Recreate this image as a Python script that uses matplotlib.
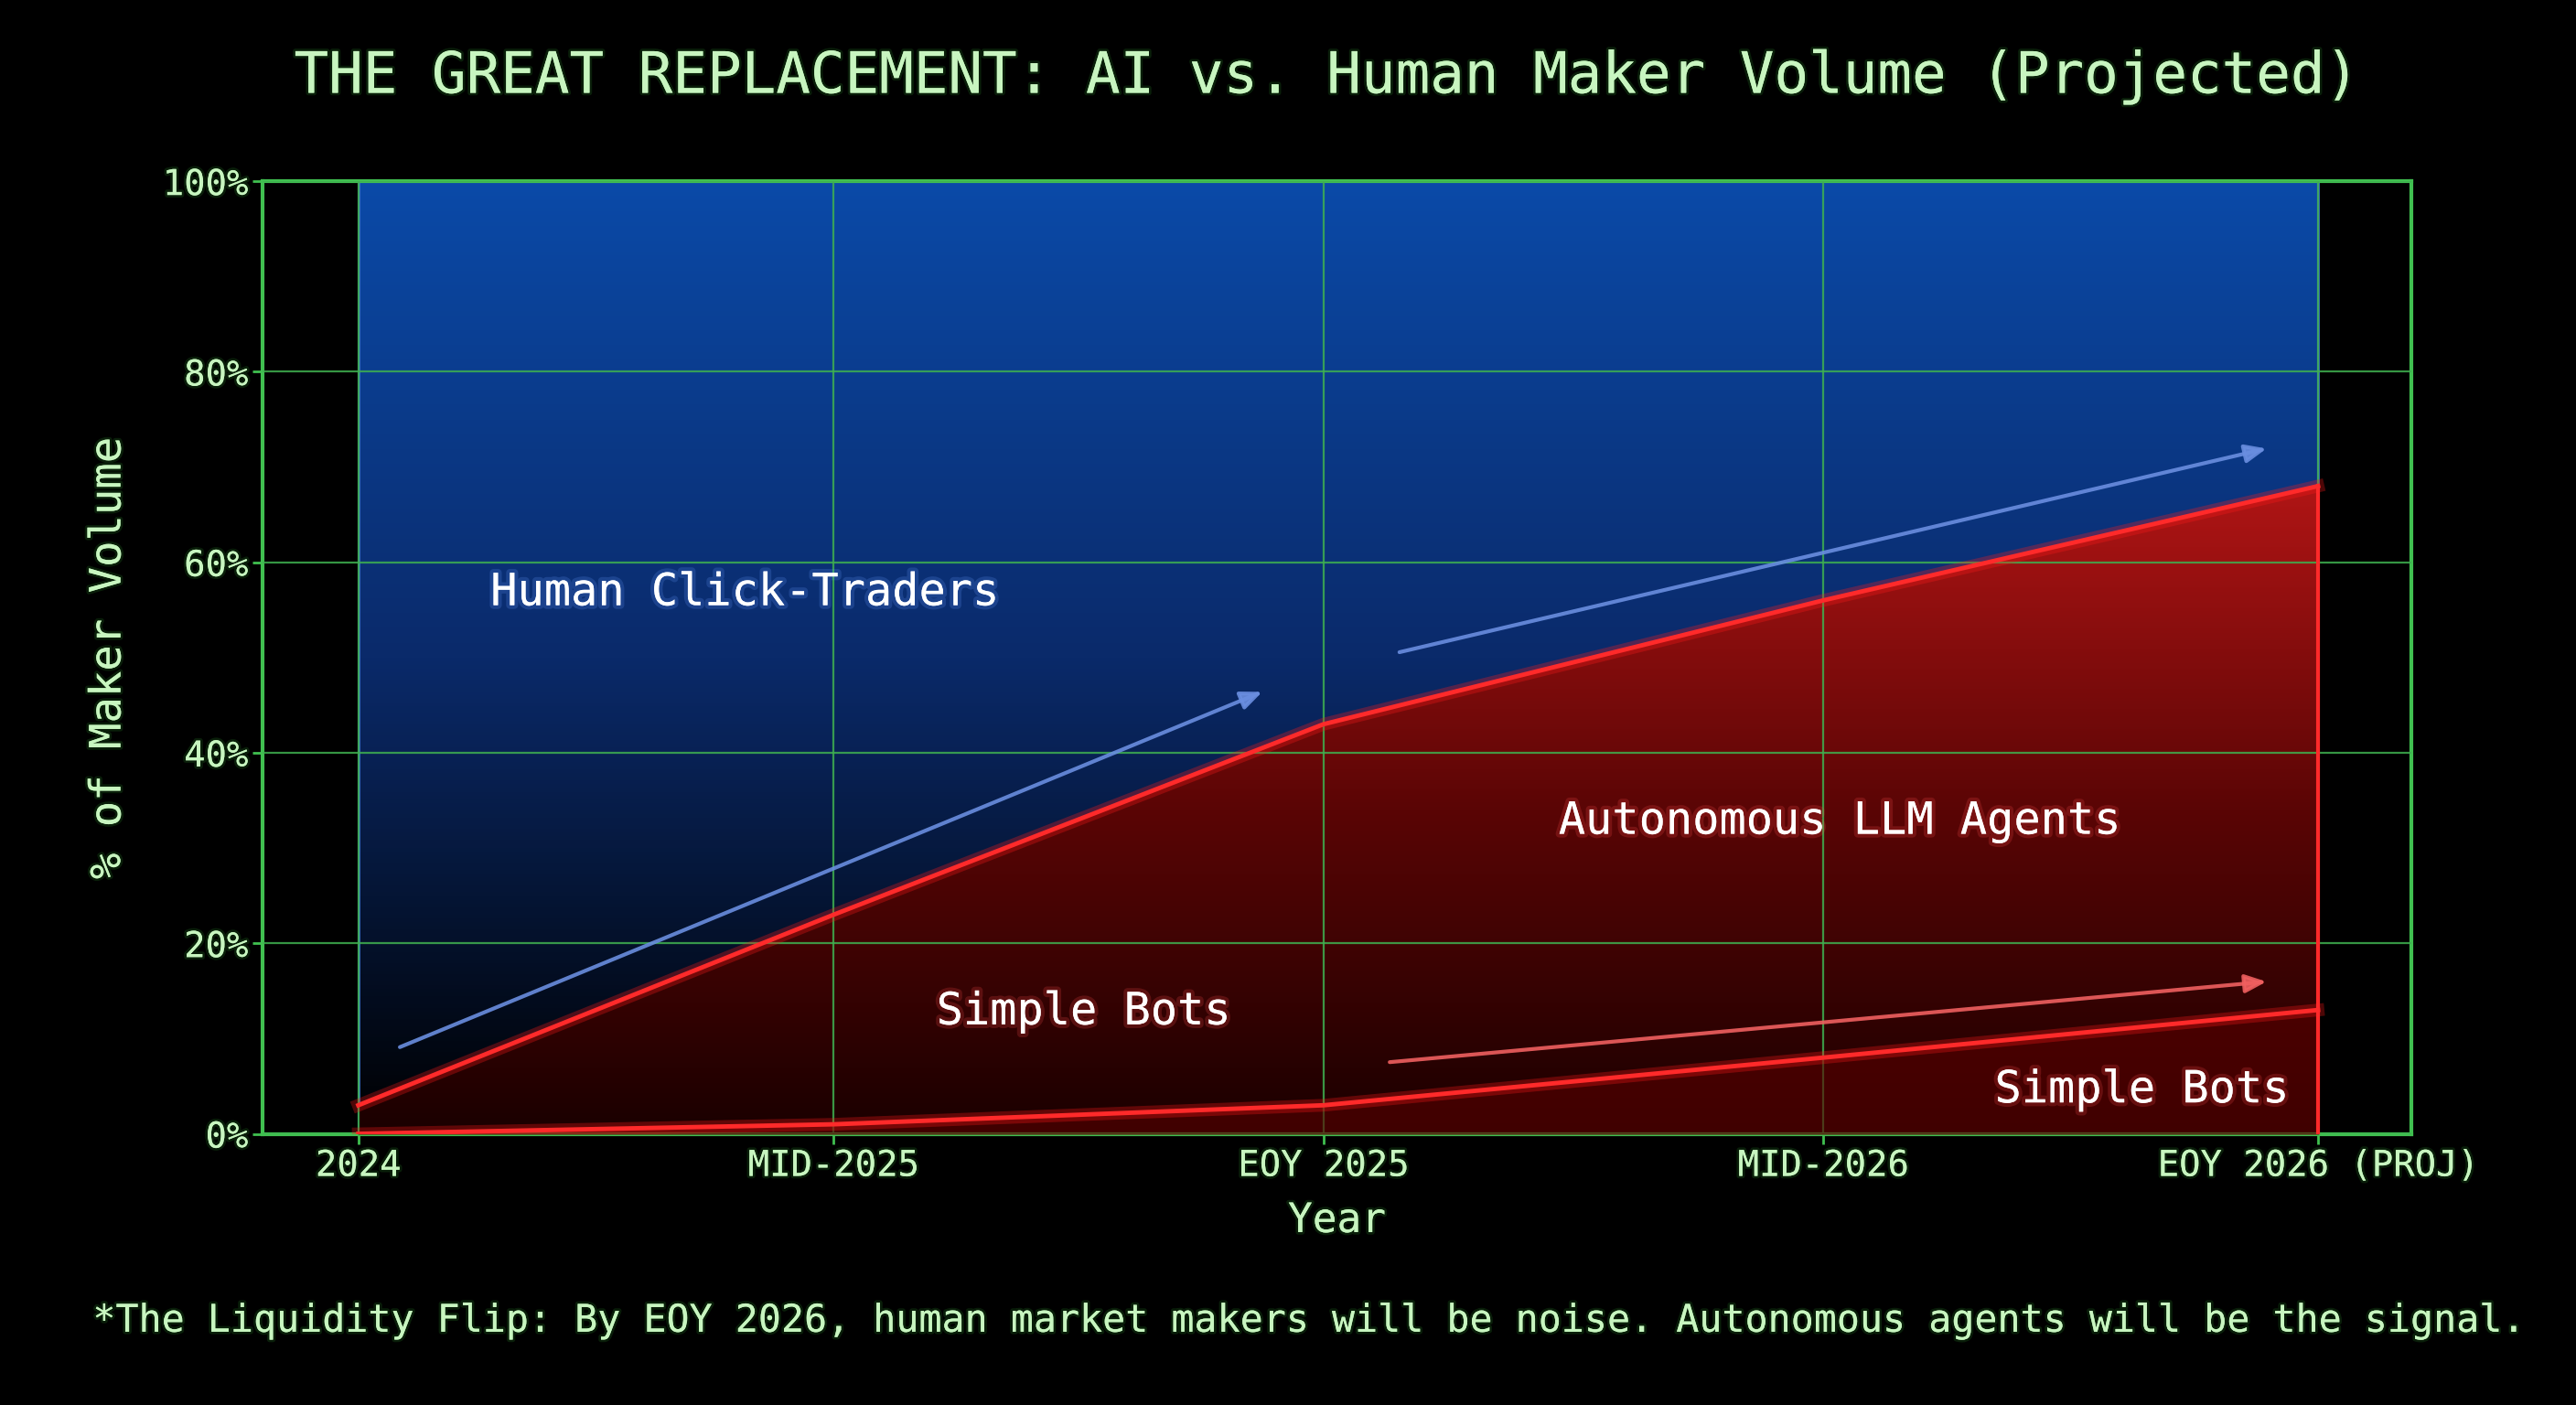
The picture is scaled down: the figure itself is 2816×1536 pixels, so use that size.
import numpy as np
import matplotlib.pyplot as plt
import matplotlib.patheffects as pe
from matplotlib.colors import LinearSegmentedColormap

periods = ["2024", "MID-2025", "EOY 2025", "MID-2026", "EOY 2026 (PROJ)"]
period_pos = [0, 0.97, 1.97, 2.99, 4]
ai_total = [3, 23, 43, 56, 68]
simple_bots = [0, 1, 3, 8, 13]
yticks = [0, 20, 40, 60, 80, 100]

plt.rcParams['font.family'] = ['DejaVu Sans Mono']
GREEN = "#c8f5c0"
GRID = "#3fb050"

fig = plt.figure(figsize=(28.16, 15.36), dpi=100, facecolor="black")
ax = fig.add_axes([0.102, 0.193, 0.834, 0.678], facecolor="black")
x = np.array(period_pos)
ax.set_xlim(-0.195, 4.19)
ax.set_ylim(0, 100)

glow = [pe.withStroke(linewidth=4, foreground=(0.3, 1, 0.3, 0.12))]

# blue human region
blue = LinearSegmentedColormap.from_list("b", ["#000000", "#0a2a6a", "#0b4aa8"])
grad = np.linspace(0, 1, 256).reshape(-1, 1)
ax.imshow(grad, extent=[0, 4, 0, 100], origin="lower", cmap=blue, aspect="auto", zorder=1)
ax.plot([0, 0, 4, 4], [0, 100, 100, 0], color="#3a70d0", lw=2, zorder=2)

# red AI region
red = LinearSegmentedColormap.from_list("r", ["#1a0000", "#5a0505", "#b01515"])
poly = ax.fill_between(x, 0, ai_total, color="none", zorder=2)
img = ax.imshow(grad, extent=[0, 4, 0, max(ai_total)], origin="lower", cmap=red,
                aspect="auto", zorder=2)
img.set_clip_path(poly.get_paths()[0], transform=ax.transData)
ax.fill_between(x, 0, simple_bots, color="#5a0000", alpha=0.6, zorder=3)

redglow = [pe.withStroke(linewidth=10, foreground=(1, 0.1, 0.1, 0.3))]
ax.plot(x, ai_total, color="#ff2a2a", lw=3.5, zorder=5, path_effects=redglow)
ax.plot(x, simple_bots, color="#ff2a2a", lw=3.5, zorder=5, path_effects=redglow)
ax.plot([4, 4], [0, ai_total[-1]], color="#ff2a2a", lw=3, zorder=5)

ax.grid(True, color=GRID, lw=1.6, alpha=0.85, zorder=4)
ax.set_axisbelow(False)
for s in ax.spines.values():
    s.set_color("#40c050")
    s.set_linewidth(3)

ax.set_xticks(x)
ax.set_xticklabels(periods)
ax.set_yticks(yticks)
ax.set_yticklabels([f"{v}%" for v in yticks])
ax.tick_params(colors="#40c050", labelcolor=GREEN, labelsize=28, length=8, width=2)
for t in ax.get_xticklabels() + ax.get_yticklabels():
    t.set_path_effects(glow)

ax.set_xlabel("Year", color=GREEN, fontsize=32, labelpad=14, path_effects=glow)
ax.set_ylabel("% of Maker Volume", color=GREEN, fontsize=34, labelpad=26, path_effects=glow)

# trend arrows
ax.annotate("", xy=(1.85, 46.5), xytext=(0.08, 9),
            arrowprops=dict(arrowstyle="-|>,head_length=1.4,head_width=0.6", color="#6a8ee0", lw=3, alpha=0.9), zorder=6)
ax.annotate("", xy=(3.9, 72), xytext=(2.12, 50.5),
            arrowprops=dict(arrowstyle="-|>,head_length=1.4,head_width=0.6", color="#6a8ee0", lw=3, alpha=0.9), zorder=6)
ax.annotate("", xy=(3.9, 16), xytext=(2.1, 7.5),
            arrowprops=dict(arrowstyle="-|>,head_length=1.4,head_width=0.6", color="#f06060", lw=3, alpha=0.9), zorder=6)

wglow_b = [pe.withStroke(linewidth=6, foreground=(0.4, 0.6, 1, 0.2))]
wglow_r = [pe.withStroke(linewidth=6, foreground=(1, 0.3, 0.3, 0.2))]
ax.text(0.27, 55.5, "Human Click-Traders", color="white", fontsize=35, zorder=7, path_effects=wglow_b)
ax.text(2.45, 31.5, "Autonomous LLM Agents", color="white", fontsize=35, zorder=7, path_effects=wglow_r)
ax.text(1.18, 11.5, "Simple Bots", color="white", fontsize=35, zorder=7, path_effects=wglow_r)
ax.text(3.34, 3.3, "Simple Bots", color="white", fontsize=35, zorder=7, path_effects=wglow_r)

fig.text(0.515, 0.945, "THE GREAT REPLACEMENT: AI vs. Human Maker Volume (Projected)",
         color=GREEN, fontsize=45, ha="center", va="center", path_effects=glow)
fig.text(0.036, 0.06, "*The Liquidity Flip: By EOY 2026, human market makers will be noise. "
         "Autonomous agents will be the signal.", color=GREEN, fontsize=30,
         ha="left", va="center", path_effects=glow)

fig.savefig("out.png", dpi=100, facecolor="black")
